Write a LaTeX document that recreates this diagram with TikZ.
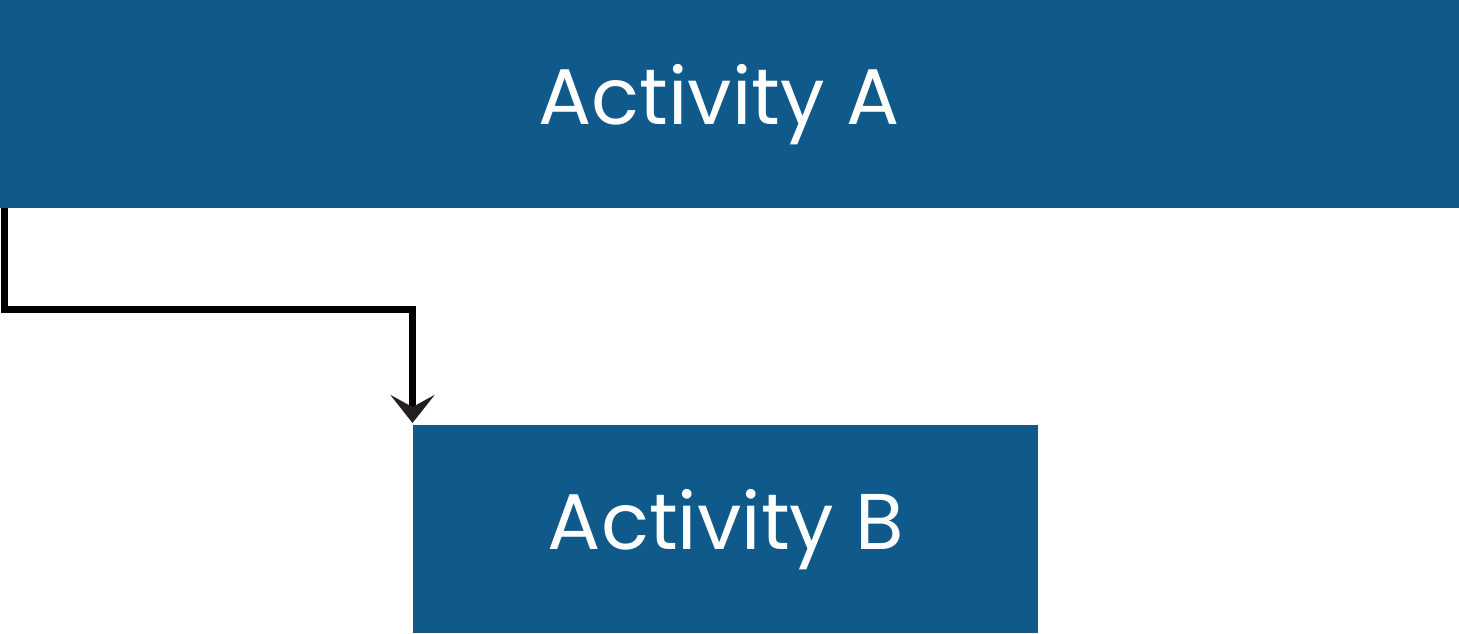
\documentclass[tikz,border=0pt]{standalone}
\usepackage{fontspec}
\setmainfont{Poppins}
\usetikzlibrary{arrows.meta}
\definecolor{boxblue}{HTML}{105A8B}
\definecolor{arrowdark}{HTML}{231F20}
\begin{document}
\begin{tikzpicture}[x=0.5pt,y=-0.5pt,
  actbox/.style={fill=boxblue,draw=none,text=white,font=\fontsize{39.5}{47}\selectfont,inner sep=0pt},
  conn/.style={line width=3.6pt,draw=black,-{Stealth[length=14pt,width=22pt,inset=6pt,fill=arrowdark,color=arrowdark]}}]
\useasboundingbox (0,0) rectangle (1459,633);
\node[actbox,minimum width=729.5pt,minimum height=104pt,anchor=north west] (A) at (0,0) {Activity A\hspace*{11pt}};
\node[actbox,minimum width=312.5pt,minimum height=104pt,anchor=north west] (B) at (413,425) {Activity B};
\coordinate (s) at (4.5,208);
\coordinate (t) at (412.5,423);
\draw[conn] (s) -- (4.5,309.5) -- (412.5,309.5) -- (t);
\end{tikzpicture}
\end{document}
